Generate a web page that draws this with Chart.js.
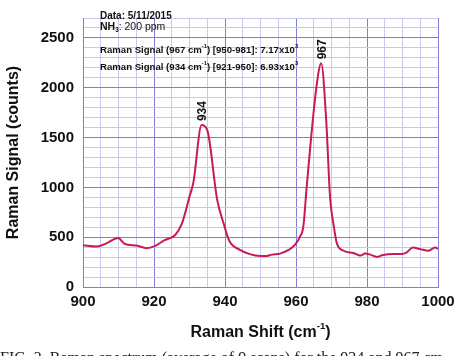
<!DOCTYPE html>
<html>
<head>
<meta charset="utf-8">
<script src="https://cdn.jsdelivr.net/npm/chart.js@4.4.0/dist/chart.umd.min.js"></script>
<style>
html,body{margin:0;padding:0;background:#fff;}
#wrap{position:relative;width:474px;height:356px;overflow:hidden;}
</style>
</head>
<body>
<div id="wrap"><canvas id="c" width="474" height="356"></canvas></div>
<script>
const ramanShift = [900, 903.8, 906.6, 909.9, 911.8, 915.1, 917.9, 920.2, 923, 925.9, 927.8, 930.1, 931.1, 933.4, 935.0, 937.8, 939.5, 941.2, 944.2, 947, 949.9, 951.7, 953.2, 955.5, 957.9, 959.7, 961.1, 962.1, 963.0, 965.7, 967.1, 968.5, 969.6, 970.6, 971.5, 973.4, 976.2, 978.1, 979.5, 980.9, 982.8, 984.2, 987.5, 989.8, 991.2, 992.9, 995, 997.3, 999.2, 1000];
const ramanSignal = [420, 406, 438, 492, 432, 416, 390, 410, 471, 520, 630, 920, 1050, 1625, 1574, 876, 650, 465, 372, 330, 312, 312, 325, 335, 372, 422, 503, 617, 1000, 1990, 2245, 1680, 900, 620, 440, 364, 341, 315, 335, 325, 302, 318, 331, 331, 348, 396, 380, 364, 396, 383];
const xTickLabels = [900, 920, 940, 960, 980, 1000];
const yTickLabels = [0, 500, 1000, 1500, 2000, 2500];
const peakLabels = [{x: 933.4, y: 1625, text: "934"}, {x: 967.1, y: 2245, text: "967"}];

const MINOR = "#c9c9ef", MAJOR = "#7f7fd0";

function drawRich(ctx, parts, x, y, size, weight, align) {
  let w = 0;
  parts.forEach(p => {
    const fs = p.s ? size * 0.6 : size;
    const wt = p.w8 || weight;
    ctx.font = wt + " " + fs + "px 'Liberation Sans', Arial, sans-serif";
    p.w = ctx.measureText(p.t).width; p.fs = fs; p.wt = wt; w += p.w;
  });
  let cx = align === "center" ? x - w / 2 : x;
  parts.forEach(p => {
    ctx.font = p.wt + " " + p.fs + "px 'Liberation Sans', Arial, sans-serif";
    const dy = p.s === 1 ? -size * 0.4 : (p.s === -1 ? size * 0.3 : 0);
    ctx.fillText(p.t, cx, y + dy);
    cx += p.w;
  });
}

const overlay = {
  id: "overlay",
  afterDraw(chart) {
    const ctx = chart.ctx, xs = chart.scales.x, ys = chart.scales.y, ca = chart.chartArea;
    ctx.save();
    ctx.fillStyle = "#111";
    ctx.textBaseline = "middle";
    ctx.save();
    ctx.translate(14, (ca.top + ca.bottom) / 2);
    ctx.rotate(-Math.PI / 2);
    ctx.textAlign = "center";
    ctx.font = "bold 16px 'Liberation Sans', Arial, sans-serif";
    ctx.fillText("Raman Signal (counts)", 0, 0);
    ctx.restore();
    ctx.textAlign = "left";
    drawRich(ctx, [{t: "Raman Shift (cm", s: 0}, {t: "-1", s: 1}, {t: ")", s: 0}], (ca.left + ca.right) / 2, 333, 16, "bold", "center");
    const lx = 100;
    drawRich(ctx, [{t: "Data: 5/11/2015", s: 0}], lx, 16, 10, "bold", "left");
    drawRich(ctx, [{t: "NH", s: 0}, {t: "3", s: -1}, {t: ": 200 ppm", s: 0, w8: "normal"}], lx, 27, 10.5, "bold", "left");
    drawRich(ctx, [{t: "Raman Signal (967 cm", s: 0}, {t: "-1", s: 1}, {t: ") [950-981]: 7.17x10", s: 0}, {t: "3", s: 1}], lx, 50, 9.6, "bold", "left");
    drawRich(ctx, [{t: "Raman Signal (934 cm", s: 0}, {t: "-1", s: 1}, {t: ") [921-950]: 6.93x10", s: 0}, {t: "3", s: 1}], lx, 67.5, 9.6, "bold", "left");
    peakLabels.forEach(p => {
      const px = xs.getPixelForValue(p.x), py = ys.getPixelForValue(p.y);
      ctx.save();
      ctx.translate(px + 1, py - 14);
      ctx.rotate(-Math.PI / 2);
      ctx.textAlign = "center";
      ctx.font = "bold 12px 'Liberation Sans', Arial, sans-serif";
      ctx.fillText(p.text, 0, 0);
      ctx.restore();
    });
    ctx.textAlign = "left";
    ctx.textBaseline = "alphabetic";
    ctx.fillStyle = "#222";
    ctx.font = "16px 'Liberation Serif', 'Times New Roman', serif";
    ctx.fillText("FIG. 2. Raman spectrum (average of 9 scans) for the 934 and 967 cm", 0, 363);
    ctx.restore();
  }
};

new Chart(document.getElementById("c"), {
  type: "line",
  data: {
    datasets: [{
      data: ramanShift.map((x, i) => ({x: x, y: ramanSignal[i]})),
      borderColor: "#c8195c",
      borderWidth: 2,
      pointRadius: 0,
      fill: false,
      cubicInterpolationMode: "monotone"
    }]
  },
  options: {
    responsive: false,
    animation: false,
    layout: {padding: {top: 8, right: 36, left: 0, bottom: 0}},
    plugins: {legend: {display: false}, tooltip: {enabled: false}},
    scales: {
      x: {
        type: "linear", min: 900, max: 1000,
        afterFit(s) { s.height = 69; },
        afterBuildTicks(s) { const t = []; for (let v = 900; v <= 1000; v += 5) t.push({value: v}); s.ticks = t; },
        ticks: {
          autoSkip: false, maxRotation: 0, padding: 6, color: "#111",
          font: {family: "'Liberation Sans', Arial, sans-serif", size: 15, weight: "bold"},
          callback: v => xTickLabels.includes(v) ? String(v) : ""
        },
        grid: {drawTicks: false, lineWidth: 1, color: c => (c.tick && c.tick.value % 20 === 0) ? MAJOR : MINOR},
        border: {display: true, color: MAJOR}
      },
      y: {
        type: "linear", min: 0, max: 2700,
        afterFit(s) { s.width = 83; },
        afterBuildTicks(s) { const t = []; for (let v = 0; v <= 2700; v += 100) t.push({value: v}); s.ticks = t; },
        ticks: {
          autoSkip: false, padding: 9, color: "#111",
          font: {family: "'Liberation Sans', Arial, sans-serif", size: 15, weight: "bold"},
          callback: v => yTickLabels.includes(v) ? String(v) : ""
        },
        grid: {drawTicks: false, lineWidth: 1, color: c => (c.tick && c.tick.value % 500 === 0) ? MAJOR : MINOR},
        border: {display: true, color: MAJOR}
      }
    }
  },
  plugins: [overlay]
});
</script>
</body>
</html>
